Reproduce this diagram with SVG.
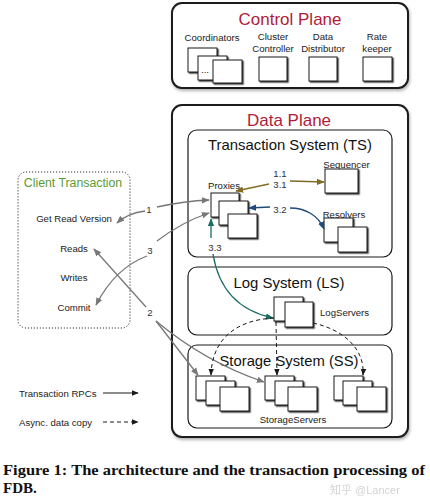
<svg xmlns="http://www.w3.org/2000/svg" width="430" height="499" viewBox="0 0 430 499">
<defs>
<style>
text{font-family:"Liberation Sans",Arial,sans-serif;fill:#222}
.t{font-size:17px;fill:#b01c38}
.s{font-size:15px;fill:#111}
.l{font-size:9.6px;fill:#222}
.n{font-size:9.6px;fill:#333}
.big{fill:#fff;stroke:#1a1a1a;stroke-width:2;filter:url(#bsh)}
.sys{fill:#fff;stroke:#1a1a1a;stroke-width:1.2}
.b{fill:#fff;stroke:#1a1a1a;stroke-width:1;filter:url(#sh)}
.g{fill:none;stroke:#777;stroke-width:1.3}
.ol{fill:none;stroke:#806c24;stroke-width:1.3}
.bl{fill:none;stroke:#1d4a7a;stroke-width:1.3}
.te{fill:none;stroke:#1b6a66;stroke-width:1.3}
.da{fill:none;stroke:#1a1a1a;stroke-width:1;stroke-dasharray:4 3}
.cap{font-family:"Liberation Serif","Times New Roman",serif;font-weight:bold;font-size:15px;fill:#111}
</style>
<filter id="sh" x="-20%" y="-20%" width="150%" height="150%"><feDropShadow dx="1.3" dy="1.3" stdDeviation="0.4" flood-color="#000" flood-opacity="0.75"/></filter>
<filter id="bsh" x="-10%" y="-10%" width="130%" height="130%"><feDropShadow dx="1" dy="2" stdDeviation="1.5" flood-color="#000" flood-opacity="0.3"/></filter>
<marker id="ag" viewBox="0 0 10 10" refX="9" refY="5" markerWidth="8" markerHeight="8" markerUnits="userSpaceOnUse" orient="auto"><path d="M0 1 L10 5 L0 9 z" fill="#777"/></marker>
<marker id="ao" viewBox="0 0 10 10" refX="9" refY="5" markerWidth="8" markerHeight="8" markerUnits="userSpaceOnUse" orient="auto"><path d="M0 1 L10 5 L0 9 z" fill="#806c24"/></marker>
<marker id="ab" viewBox="0 0 10 10" refX="9" refY="5" markerWidth="8" markerHeight="8" markerUnits="userSpaceOnUse" orient="auto"><path d="M0 1 L10 5 L0 9 z" fill="#1d4a7a"/></marker>
<marker id="at" viewBox="0 0 10 10" refX="9" refY="5" markerWidth="8" markerHeight="8" markerUnits="userSpaceOnUse" orient="auto"><path d="M0 1 L10 5 L0 9 z" fill="#1b6a66"/></marker>
<marker id="ak" viewBox="0 0 10 10" refX="9" refY="5" markerWidth="7" markerHeight="7" markerUnits="userSpaceOnUse" orient="auto"><path d="M0 1 L10 5 L0 9 z" fill="#1a1a1a"/></marker>
</defs>
<rect width="430" height="499" fill="#fff"/>

<g id="control-plane">
<rect class="big" x="172" y="3" width="236" height="85" rx="10"/>
<text class="t" x="290" y="25" text-anchor="middle">Control Plane</text>
</g>
<g id="coordinators">
<text class="l" x="212" y="41" text-anchor="middle">Coordinators</text>
<rect class="b" x="188" y="48" width="29" height="24"/>
<rect class="b" x="198" y="56" width="29" height="24"/>
<text class="l" x="201" y="73" font-size="8">...</text>
<rect class="b" x="213" y="60" width="29" height="23"/>
</g>
<g id="cluster-controller">
<text class="l" x="273" y="40" text-anchor="middle">Cluster</text>
<text class="l" x="273" y="51.5" text-anchor="middle">Controller</text>
<rect class="b" x="259" y="57" width="28" height="24"/>
</g>
<g id="data-distributor">
<text class="l" x="323" y="40" text-anchor="middle">Data</text>
<text class="l" x="323" y="51.5" text-anchor="middle">Distributor</text>
<rect class="b" x="309" y="57" width="28" height="24"/>
</g>
<g id="ratekeeper">
<text class="l" x="377" y="40" text-anchor="middle">Rate</text>
<text class="l" x="377" y="51.5" text-anchor="middle">keeper</text>
<rect class="b" x="363" y="57" width="29" height="24"/>
</g>

<g id="data-plane">
<rect class="big" x="172" y="105" width="236" height="332" rx="10"/>
<text class="t" x="289" y="126" text-anchor="middle">Data Plane</text>
</g>
<g id="transaction-system">
<rect class="sys" x="188" y="130" width="204" height="127" rx="9"/>
<text class="s" x="290" y="150" text-anchor="middle" textLength="164" lengthAdjust="spacingAndGlyphs">Transaction System (TS)</text>
</g>
<g id="proxies">
<text class="l" x="208" y="188.5">Proxies</text>
<rect class="b" x="211" y="193" width="28" height="24"/>
<rect class="b" x="219" y="201" width="29" height="24"/>
<rect class="b" x="228" y="214" width="29" height="24"/>
</g>
<g id="sequencer">
<text class="l" x="346.5" y="167.5" text-anchor="middle">Sequencer</text>
<rect class="b" x="325" y="169" width="33" height="24"/>
</g>
<g id="resolvers">
<text class="l" x="344" y="217.5" text-anchor="middle">Resolvers</text>
<rect class="b" x="324" y="218" width="29" height="24"/>
<rect class="b" x="338" y="227" width="29" height="25"/>
</g>
<g id="log-system">
<rect class="sys" x="188" y="267" width="204" height="68" rx="9"/>
<text class="s" x="289" y="288" text-anchor="middle" textLength="111" lengthAdjust="spacingAndGlyphs">Log System (LS)</text>
</g>
<g id="logservers">
<rect class="b" x="274" y="297" width="29" height="24"/>
<rect class="b" x="285" y="302" width="28" height="25"/>
<text class="l" x="320" y="315.5">LogServers</text>
</g>
<g id="storage-system">
<rect class="sys" x="188" y="345" width="204" height="83" rx="9"/>
<text class="s" x="289" y="366" text-anchor="middle" textLength="139" lengthAdjust="spacingAndGlyphs">Storage System (SS)</text>
</g>
<g id="storageservers">
<rect class="b" x="196" y="376" width="29" height="24"/>
<rect class="b" x="206" y="381" width="29" height="24"/>
<rect class="b" x="220" y="387" width="29" height="24"/>
<rect class="b" x="265" y="376" width="29" height="24"/>
<rect class="b" x="275" y="381" width="28" height="24"/>
<rect class="b" x="288" y="387" width="29" height="24"/>
<rect class="b" x="334" y="376" width="29" height="24"/>
<rect class="b" x="343" y="381" width="29" height="24"/>
<rect class="b" x="357" y="387" width="29" height="24"/>
<text class="l" x="293" y="422.5" text-anchor="middle">StorageServers</text>
</g>

<g id="client-transaction">
<rect x="18" y="172" width="112" height="156" rx="8" fill="#fff" stroke="#333" stroke-width="1" stroke-dasharray="1.2 1.8"/>
<text x="73" y="187" text-anchor="middle" font-size="12.3" style="fill:#5a9a35">Client Transaction</text>
<text class="l" x="74" y="222" text-anchor="middle">Get Read Version</text>
<text class="l" x="74" y="251.5" text-anchor="middle">Reads</text>
<text class="l" x="74" y="280.5" text-anchor="middle">Writes</text>
<text class="l" x="74" y="310.5" text-anchor="middle">Commit</text>
</g>

<g id="legend">
<text class="l" x="19" y="396.5">Transaction RPCs</text>
<text class="l" x="19" y="425.5">Async. data copy</text>
</g>

<g id="connectors">
<path class="g" d="M157 207 Q 185 201 209 200" marker-end="url(#ag)"/>
<path class="g" d="M145 211 Q 128 213 117 223" marker-end="url(#ag)"/>
<path class="g" d="M157 241 Q 182 222 209 213" marker-end="url(#ag)"/>
<path class="g" d="M147 256 Q 115 268 96 305" marker-end="url(#ag)"/>
<path class="g" d="M146 307 L 94 249" marker-end="url(#ag)"/>
<path class="g" d="M156 321 L 198 375" marker-end="url(#ag)"/>
<path class="g" d="M156 321 Q 205 362 264 382" marker-end="url(#ag)"/>
<path class="ol" d="M269 184 L 236 191" marker-end="url(#ao)"/>
<path class="ol" d="M290 181 L 324 182" marker-end="url(#ao)"/>
<path class="bl" d="M270 207 L 249 208" marker-end="url(#ab)"/>
<path class="bl" d="M290 208 C 305 208 318 215 324 229" marker-end="url(#ab)"/>
<path class="te" d="M211 238 L 211 219" marker-end="url(#at)"/>
<path class="te" d="M213 254 C 218 285 235 310 273 318" marker-end="url(#at)"/>
<path class="da" d="M274 318 C 235 320 212 340 211 375" marker-end="url(#ak)"/>
<path class="da" d="M276 322 L 277 375" marker-end="url(#ak)"/>
<path class="da" d="M313 323 C 345 330 365 350 363 375" marker-end="url(#ak)"/>
<path d="M103 393 L 138 393" fill="none" stroke="#1a1a1a" stroke-width="1" marker-end="url(#ak)"/>
<path class="da" d="M103 422 L 138 422" marker-end="url(#ak)"/>
<text class="n" x="149" y="213" text-anchor="middle">1</text>
<text class="n" x="150" y="254" text-anchor="middle">3</text>
<text class="n" x="150" y="316" text-anchor="middle">2</text>
<text class="n" x="280" y="176.5" text-anchor="middle">1.1</text>
<text class="n" x="280" y="188" text-anchor="middle">3.1</text>
<text class="n" x="280" y="212.5" text-anchor="middle">3.2</text>
<text class="n" x="215" y="250.5" text-anchor="middle">3.3</text>
</g>

<g id="caption">
<text class="cap" x="3" y="475" textLength="422" lengthAdjust="spacingAndGlyphs">Figure 1: The architecture and the transaction processing of</text>
<text class="cap" x="3" y="493">FDB.</text>
<text x="330" y="494" font-size="11" style="fill:#c8c8c8;font-family:'Liberation Sans','Noto Sans CJK SC',sans-serif" opacity="0.8">知乎 @Lancer</text>
</g>
</svg>
